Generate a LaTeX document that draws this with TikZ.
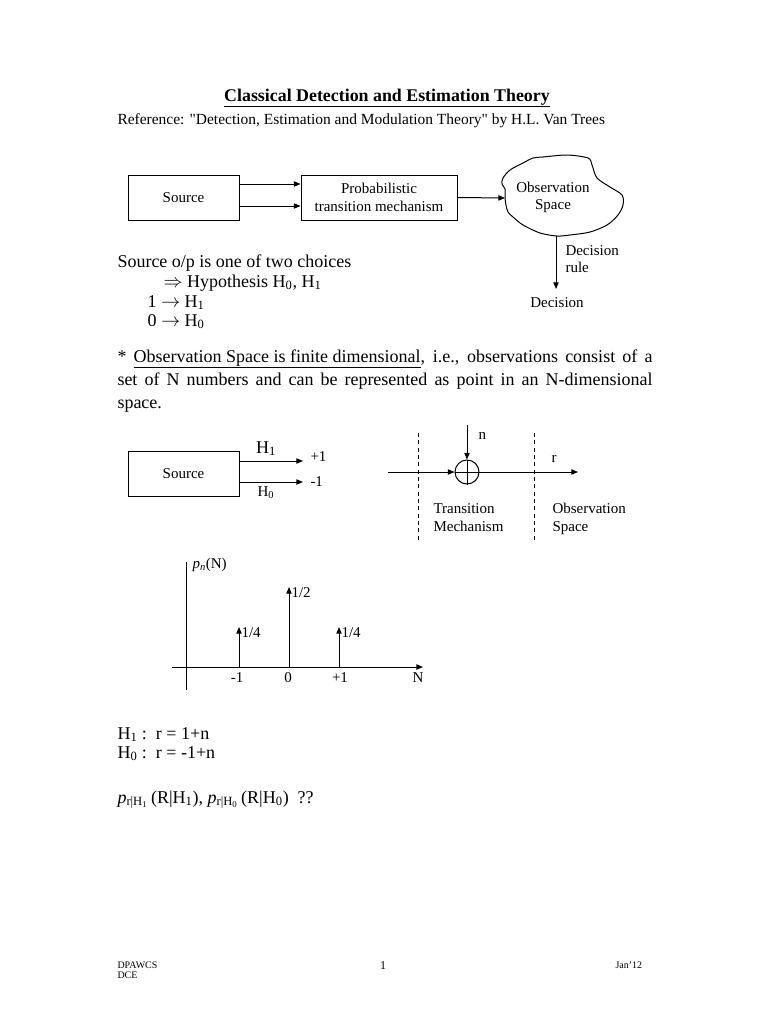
\documentclass[tikz,border=0pt]{standalone}
\usepackage{fontspec}
\setmainfont{Liberation Serif}
\font\rawref="Liberation Serif" at 11.6pt
\usetikzlibrary{arrows.meta}
\begin{document}
\begin{tikzpicture}[x=0.75pt,y=-0.75pt,
  line width=0.75pt,
  arr/.style={-{Triangle[length=5pt,width=4pt]}, line width=0.75pt},
  blk/.style={draw, line width=0.75pt, inner sep=0pt, minimum height=33.75pt,
    align=center, font=\fontsize{11.25}{13}\selectfont},
  small/.style={inner sep=0pt, font=\fontsize{11.25}{13}\selectfont},
  body/.style={inner sep=0pt, font=\fontsize{13.5}{16}\selectfont},
  foot/.style={inner sep=0pt, font=\fontsize{7.5}{9}\selectfont},
  dashline/.style={dashed, dash pattern=on 3pt off 2.5pt, line width=0.75pt}
]
\useasboundingbox (0,0) rectangle (768,1024);
\fill[white] (0,0) rectangle (768,1024);

% title
\node[inner sep=0pt, anchor=base, font=\fontsize{13.4}{16}\selectfont\bfseries] (title) at (387,101)
  {\underline{Classical Detection and Estimation Theory}};
\node[inner sep=0pt, anchor=base west] (ref) at (117,124)
  {\rawref Reference: "Detection, Estimation and Modulation Theory" by H.L. Van Trees};

% top block diagram
\node[blk, minimum width=83.25pt] (src) at (183.5,197.5) {Source};
\node[blk, minimum width=117pt, font=\fontsize{11.25}{13.5}\selectfont] (prob) at (379,197.5)
  {Probabilistic\\transition mechanism};
\draw[arr] (src.east |- 0,184) -- (prob.west |- 0,184);
\draw[arr] (src.east |- 0,206) -- (prob.west |- 0,206);

\draw[line width=0.75pt] plot[smooth cycle, tension=0.5] coordinates
  {(505,198) (506,205) (508,212) (513,217) (523,225) (540,233) (557,236)
   (570,235) (590,232) (607,225) (618,215) (623,205) (622,195) (610,187)
   (597,178) (592,165) (588,158) (567,155) (543,157) (533,158) (523,163)
   (510,170) (503,178) (502,184) (505,189)};
\coordinate (cl) at (505,198);
\coordinate (cb) at (556,236);
\coordinate (dtip) at (556,289);
\node[small, align=center, font=\fontsize{11.25}{12.75}\selectfont] (obs) at (553,197) {Observation\\Space};
\draw[arr] (prob.east) -- (cl);
\draw[arr] (cb) -- (dtip);
\node[small, anchor=base west, align=left, font=\fontsize{11.25}{12.75}\selectfont] (drule) at (565,272) {Decision\\rule};
\node[small, anchor=base] (dec) at (557,307) {Decision};

% hypothesis text
\node[body, anchor=base west] (l1) at (117,267) {Source o/p is one of two choices};
\node[body, anchor=base west] (l2) at (163,287) {$\Rightarrow$ Hypothesis H\textsubscript{0}, H\textsubscript{1}};
\node[body, anchor=base west] (l3) at (147,307) {1 $\rightarrow$ H\textsubscript{1}};
\node[body, anchor=base west] (l4) at (147,326) {0 $\rightarrow$ H\textsubscript{0}};

% paragraph
\node[inner sep=0pt, anchor=base west, text width=401.25pt, align=justify,
  font=\fontsize{13.5}{17.6}\selectfont] (para) at (117,362)
  {* \underline{Observation Space is finite dimensional}, i.e., observations consist of a\linebreak
   set of N numbers and can be represented as point in an N-dimensional\linebreak space.};

% second source
\node[blk, minimum width=83.25pt] (src2) at (183.5,473.5) {Source};
\coordinate (p1) at (303,461);
\coordinate (p0) at (303,482);
\draw[arr] (src2.east |- p1) -- (p1);
\draw[arr] (src2.east |- p0) -- (p0);
\node[body, anchor=base] (h1) at (266,453) {H\textsubscript{1}};
\node[small, anchor=base] (h0) at (266,496) {H\textsubscript{0}};
\node[small, anchor=base west] (plus1) at (310,461) {+1};
\node[small, anchor=base west] (minus1) at (310,486) {-1};

% transition mechanism
\node[circle, draw, line width=0.75pt, minimum size=18pt, inner sep=0pt] (sum) at (467,472) {};
\draw (sum.north) -- (sum.south);
\coordinate (tin) at (388,472);
\coordinate (tout) at (578,472);
\coordinate (ntop) at (467,425);
\draw[arr] (tin) -- (sum.west);
\draw (sum.west) -- (sum.east);
\draw[arr] (sum.east) -- (tout);
\draw[arr] (ntop) -- (sum.north);
\coordinate (d1a) at (418,433); \coordinate (d1b) at (418,540);
\coordinate (d2a) at (534,433); \coordinate (d2b) at (534,540);
\draw[dashline] (d1a) -- (d1b);
\draw[dashline] (d2a) -- (d2b);
\node[small, anchor=base west] (nlab) at (478,439) {n};
\node[small, anchor=base west] (rlab) at (551,462) {r};
\node[small, anchor=base west, align=left, font=\fontsize{11.25}{13.5}\selectfont] (tm) at (433,531) {Transition\\Mechanism};
\node[small, anchor=base west, align=left, font=\fontsize{11.25}{13.5}\selectfont] (os) at (552,531) {Observation\\Space};

% pmf plot
\coordinate (vtop) at (186,562);
\coordinate (vbot) at (186,690);
\coordinate (hl) at (172,667);
\coordinate (hr) at (423,667);
\draw (vtop) -- (vbot);
\draw[arr] (hl) -- (hr);
\coordinate (b1) at (239,667); \coordinate (t1) at (239,627);
\coordinate (b2) at (289,667); \coordinate (t2) at (289,587);
\coordinate (b3) at (339,667); \coordinate (t3) at (339,627);
\draw[arr] (b1) -- (t1);
\draw[arr] (b2) -- (t2);
\draw[arr] (b3) -- (t3);
\node[small, anchor=base west] (q1) at (241,637) {1/4};
\node[small, anchor=base west] (q2) at (291,597) {1/2};
\node[small, anchor=base west] (q3) at (341,637) {1/4};
\node[small, anchor=base] (xm1) at (237,682) {-1};
\node[small, anchor=base] (x0) at (288,682) {0};
\node[small, anchor=base] (xp1) at (340,682) {+1};
\node[small, anchor=base] (xN) at (418,682) {N};
\node[small, anchor=base west] (pn) at (192,568) {\textit{p\textsubscript{n}}(N)};

% hypotheses equations
\node[body, anchor=base west] (e1) at (117,739) {H\textsubscript{1} :\ \ r = 1+n};
\node[body, anchor=base west] (e0) at (117,758) {H\textsubscript{0} :\ \ r = -1+n};
\node[body, anchor=base west] (pq) at (117,803)
  {\textit{p}\textsubscript{r|H\textsubscript{1}}\,(R|H\textsubscript{1}),\ \textit{p}\textsubscript{r|H\textsubscript{0}}\,(R|H\textsubscript{0})\ \ ??};

% footer
\node[foot, anchor=base west] (f1) at (117,968) {DPAWCS};
\node[foot, anchor=base west] (f2) at (117,978) {DCE};
\node[foot, anchor=base, font=\fontsize{9}{10}\selectfont] (f3) at (383,969) {1};
\node[foot, anchor=base west] (f4) at (615,968) {Jan'12};
\end{tikzpicture}
\end{document}
